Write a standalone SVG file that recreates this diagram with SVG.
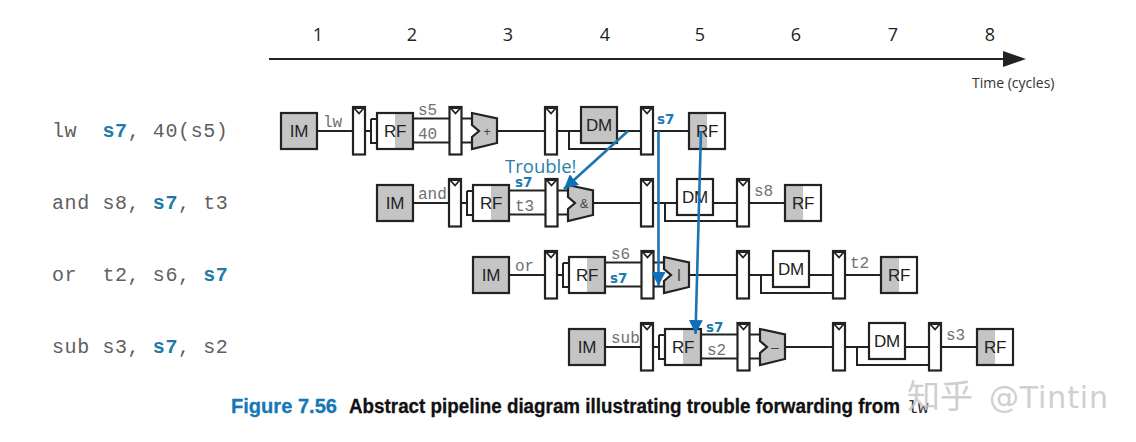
<svg xmlns="http://www.w3.org/2000/svg" width="1136" height="442" viewBox="0 0 1136 442">
<style>
.n{font-family:"Liberation Sans",Arial,sans-serif;font-size:17px;letter-spacing:-.3px;fill:#222;text-anchor:middle}
.b{fill:#fff;stroke:#222;stroke-width:2.2}
.g{fill:#c4c4c4;stroke:#222;stroke-width:2.2}
.sh{fill:#c4c4c4}
.o{fill:none;stroke:#222;stroke-width:2.2}
.l{fill:none;stroke:#222;stroke-width:2}
.t{font-family:"Open Sans",sans-serif;font-size:18px;fill:#222;text-anchor:middle}
.m{font-family:"Liberation Mono",monospace;font-size:16px;fill:#707070}
.i{font-family:"Liberation Mono",monospace;font-size:20px;letter-spacing:.6px;fill:#606060;white-space:pre}
.i tspan{font-weight:bold;fill:#1f7aa8}
.s{font-family:"DejaVu Sans",sans-serif;font-weight:bold;font-size:13.5px;fill:#1f7ab0}
.c{font-family:"Liberation Sans",sans-serif;fill:#444;text-anchor:middle}
.a{fill:none;stroke:#1a75b0;stroke-width:2.6}
</style>
<defs>
<marker id="ah" markerUnits="userSpaceOnUse" markerWidth="16" markerHeight="14" refX="14" refY="7" orient="auto"><path d="M0 0L14 7L0 14Z" fill="#0f70b5"/></marker>
<g id="reg"><rect class="b" x="0" y="0" width="12" height="47.500"/><path d="M1 1L11 1L6 6.500Z" fill="#fff" stroke="#222" stroke-width="1.800"/></g>
<g id="rfw"><rect x="0" y="0" width="36" height="36" fill="#fff"/><rect class="sh" x="18" y="0" width="18" height="36"/><rect class="o" x="0" y="0" width="36" height="36"/><text class="n" x="18" y="24">RF</text></g>
<g id="rfr"><rect x="0" y="0" width="36" height="36" fill="#fff"/><rect class="sh" x="0" y="0" width="18" height="36"/><rect class="o" x="0" y="0" width="36" height="36"/><text class="n" x="18" y="24">RF</text></g>
<g id="im"><rect class="g" x="0" y="0" width="36" height="36"/><text class="n" x="18" y="24">IM</text></g>
</defs>
<rect width="1136" height="442" fill="#fff"/>
<g id="axis">
<path d="M269 59H1004" fill="none" stroke="#222" stroke-width="1.800"/><path d="M1003 51L1026 59L1003 67Z" fill="#222"/>
<text class="t" x="318" y="41">1</text><text class="t" x="412" y="41">2</text><text class="t" x="508" y="41">3</text><text class="t" x="605" y="41">4</text><text class="t" x="700" y="41">5</text><text class="t" x="796" y="41">6</text><text class="t" x="893" y="41">7</text><text class="t" x="990" y="41">8</text>
<text x="972" y="88" font-family="Open Sans,sans-serif" font-size="14" fill="#333">Time (cycles)</text>
</g>
<g id="instructions">
<text class="i" x="52" y="137" xml:space="preserve">lw  <tspan>s7</tspan>, 40(s5)</text>
<text class="i" x="52" y="209" xml:space="preserve">and s8, <tspan>s7</tspan>, t3</text>
<text class="i" x="52" y="281" xml:space="preserve">or  t2, s6, <tspan>s7</tspan></text>
<text class="i" x="52" y="353" xml:space="preserve">sub s3, <tspan>s7</tspan>, s2</text>
</g>
<g id="connectors">
<path class="l" d="M317 131H353M365 131H371M371 119V143H377M371 119H377M413 118.500H449M413 142.500H449M461 118.500H475M461 142.500H475M497 131H545M557 131H581M617 131H641M569 131V149H641M653 131H689"/>
<path class="l" transform="translate(96 72)" d="M317 131H353M365 131H371M371 119V143H377M371 119H377M413 118.500H449M413 142.500H449M461 118.500H475M461 142.500H475M497 131H545M557 131H581M617 131H641M569 131V149H641M653 131H689"/>
<path class="l" transform="translate(192 144)" d="M317 131H353M365 131H371M371 119V143H377M371 119H377M413 118.500H449M413 142.500H449M461 118.500H475M461 142.500H475M497 131H545M557 131H581M617 131H641M569 131V149H641M653 131H689"/>
<path class="l" transform="translate(288 216)" d="M317 131H353M365 131H371M371 119V143H377M371 119H377M413 118.500H449M413 142.500H449M461 118.500H475M461 142.500H475M497 131H545M557 131H581M617 131H641M569 131V149H641M653 131H689"/>
</g>
<g id="row1">
<use href="#im" x="281" y="113"/><use href="#reg" x="353" y="107"/><use href="#rfw" x="377" y="113"/><use href="#reg" x="449.500" y="107"/>
<path class="g" d="M472 113L497 118.500V143L472 149V137L479 131L472 125Z"/><text x="487" y="135.500" class="c" font-size="13">+</text>
<use href="#reg" x="545" y="107"/><rect class="g" x="581" y="107" width="36" height="36"/><text class="n" x="599" y="131">DM</text><use href="#reg" x="641" y="107"/><use href="#rfr" x="689" y="113"/>
<text class="m" x="323" y="127">lw</text><text class="m" x="418" y="115">s5</text><text class="m" x="418" y="139">40</text><text class="s" x="657" y="124">s7</text>
</g>
<g id="row2">
<use href="#im" x="377" y="185"/><use href="#reg" x="449" y="179"/><use href="#rfw" x="473" y="185"/><use href="#reg" x="545.500" y="179"/>
<path class="g" d="M568 185L593 190.500V215L568 221V209L575 203L568 197Z"/><text x="584" y="207.500" class="c" font-size="13">&amp;</text>
<use href="#reg" x="641" y="179"/><rect class="b" x="677" y="179" width="36" height="36"/><text class="n" x="695" y="203">DM</text><use href="#reg" x="737" y="179"/><use href="#rfr" x="785" y="185"/>
<text class="m" x="418" y="199">and</text><text class="s" x="515" y="187">s7</text><text class="m" x="515" y="211">t3</text><text class="m" x="754" y="196">s8</text>
</g>
<g id="row3">
<use href="#im" x="473" y="257"/><use href="#reg" x="545" y="251"/><use href="#rfw" x="569" y="257"/><use href="#reg" x="641.500" y="251"/>
<path class="g" d="M664 257L689 262.500V287L664 293V281L671 275L664 269Z"/><text x="679" y="281" class="c" font-size="16">I</text>
<use href="#reg" x="737" y="251"/><rect class="b" x="773" y="251" width="36" height="36"/><text class="n" x="791" y="275">DM</text><use href="#reg" x="833" y="251"/><use href="#rfr" x="881" y="257"/>
<text class="m" x="515" y="271">or</text><text class="m" x="611" y="259">s6</text><text class="s" x="610" y="283">s7</text><text class="m" x="850" y="268">t2</text>
</g>
<g id="row4">
<use href="#im" x="569" y="329"/><use href="#reg" x="641" y="323"/><use href="#rfw" x="665" y="329"/><use href="#reg" x="737.500" y="323"/>
<path class="g" d="M760 329L785 334.500V359L760 365V353L767 347L760 341Z"/><text x="775" y="351.500" class="c" font-size="14">–</text>
<use href="#reg" x="833" y="323"/><rect class="b" x="869" y="323" width="36" height="36"/><text class="n" x="887" y="347">DM</text><use href="#reg" x="929" y="323"/><use href="#rfr" x="977" y="329"/>
<text class="m" x="611" y="343">sub</text><text class="s" x="706" y="332">s7</text><text class="m" x="707" y="355">s2</text><text class="m" x="946" y="340">s3</text>
</g>
<g id="forwarding">
<text x="505" y="173" font-family="Open Sans,sans-serif" font-size="18.500" fill="#2b80a8">Trouble!</text>
<path class="a" d="M628 131L564 189" marker-end="url(#ah)"/>
<path class="a" d="M658.500 131L658.500 286" marker-end="url(#ah)"/>
<path class="a" d="M701 131L695.500 334" marker-end="url(#ah)"/>
</g>
<g id="caption" font-family="Liberation Sans,sans-serif" font-weight="bold">
<text x="231" y="413" font-size="21" fill="#1577b8" stroke="#1577b8" stroke-width=".3" textLength="106" lengthAdjust="spacingAndGlyphs">Figure 7.56</text>
<text x="349" y="413" font-size="20" fill="#111" stroke="#111" stroke-width=".3" textLength="551" lengthAdjust="spacingAndGlyphs">Abstract pipeline diagram illustrating trouble forwarding from</text>
<text x="907" y="413" font-size="18" font-weight="normal" font-family="Liberation Mono,monospace" fill="#333">lw</text>
</g>
<g id="watermark" fill="#c4c4c4">
<text x="907" y="408" font-family="Noto Sans CJK SC,sans-serif" font-size="33" opacity=".8">知乎</text>
<text x="989" y="408" font-family="DejaVu Sans,sans-serif" font-size="30" opacity=".8" textLength="119">@Tintin</text>
</g>
</svg>
